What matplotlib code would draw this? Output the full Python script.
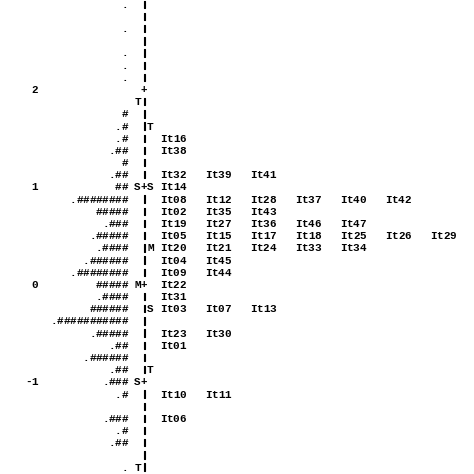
import matplotlib
matplotlib.use("Agg")
import matplotlib.pyplot as plt
import matplotlib.patheffects as pe

# ---- data (rows top to bottom) ----
row_measure = [2.875, 2.75, 2.625, 2.5, 2.375, 2.25, 2.125,
               2.0, 1.875, 1.75, 1.625, 1.5, 1.375, 1.25, 1.125,
               1.0, 0.875, 0.75, 0.625, 0.5, 0.375, 0.25, 0.125,
               0.0, -0.125, -0.25, -0.375, -0.5, -0.625, -0.75, -0.875,
               -1.0, -1.125, -1.25, -1.375, -1.5, -1.625, -1.75, -1.875]

persons = [".", "", ".", "", ".", ".", ".",
           "", "", "#", ".#", ".#", ".##", "#", ".##",
           "##", ".########", "#####", ".###", ".#####", ".####", ".######", ".########",
           "#####", ".####", "######", ".###########", ".#####", ".##", ".######", ".##",
           ".###", ".#", "", ".###", ".#", ".##", "", "."]

left_marks = ["", "", "", "", "", "", "",
              "", "T", "", "", "", "", "", "",
              "S", "", "", "", "", "", "", "",
              "M", "", "", "", "", "", "", "",
              "S", "", "", "", "", "", "", "T"]

right_marks = ["", "", "", "", "", "", "",
               "", "", "", "T", "", "", "", "",
               "S", "", "", "", "", "M", "", "",
               "", "", "S", "", "", "", "", "T",
               "", "", "", "", "", "", "", ""]

items = [[], [], [], [], [], [], [],
         [], [], [], [], ["It16"], ["It38"], [], ["It32", "It39", "It41"],
         ["It14"],
         ["It08", "It12", "It28", "It37", "It40", "It42"],
         ["It02", "It35", "It43"],
         ["It19", "It27", "It36", "It46", "It47"],
         ["It05", "It15", "It17", "It18", "It25", "It26", "It29"],
         ["It20", "It21", "It24", "It33", "It34"],
         ["It04", "It45"],
         ["It09", "It44"],
         ["It22"], ["It31"], ["It03", "It07", "It13"], [],
         ["It23", "It30"], ["It01"], [], [],
         [], ["It10", "It11"], [], ["It06"], [], [], [], []]

scale_values = [2, 1, 0, -1]
scale_labels = ["2", "1", "0", "-1"]

# ---- layout ----
W = H = 474
CW = 6.43          # pixel width of one character column
AXIS_PX = 144.0    # pixel x of the centre column
ROW_PX = 12.18     # pixels per row (0.125 logit)
Y2_PX = 90.0       # pixel y of measure 2

fig = plt.figure(figsize=(W / 100, H / 100), dpi=100)
ax = fig.add_axes([0, 0, 1, 1])
ax.axis("off")
ax.set_xlim(-AXIS_PX / CW, (W - AXIS_PX) / CW)
units_per_px = 0.125 / ROW_PX
ax.set_ylim(2 - (H - Y2_PX) * units_per_px, 2 + Y2_PX * units_per_px)

FONT = dict(family="Liberation Mono", fontsize=7.9, fontweight="bold",
            color="black", ha="center", va="center")


def put(col, y, s, **kw):
    style = dict(FONT)
    style.update(kw)
    for i, ch in enumerate(s):
        if ch != " ":
            ax.text(col + i, y, ch, **style)


for y, p, lm, rm, its in zip(row_measure, persons, left_marks, right_marks, items):
    # persons: right end at column -3
    if p:
        put(-2 - len(p), y, p)
    if lm:
        put(-1, y, lm)
    if float(y).is_integer():
        put(0, y, "+")
    else:
        put(0, y, "|", fontsize=5.6,
            path_effects=[pe.withStroke(linewidth=0.8, foreground="black")])
    if rm:
        put(1, y, rm)
    for j, it in enumerate(its):
        put(3 + 7 * j, y, it)

for v, lab in zip(scale_values, scale_labels):
    put(-17 - (len(lab) - 1), v, lab)

fig.savefig("out.png", dpi=100)
